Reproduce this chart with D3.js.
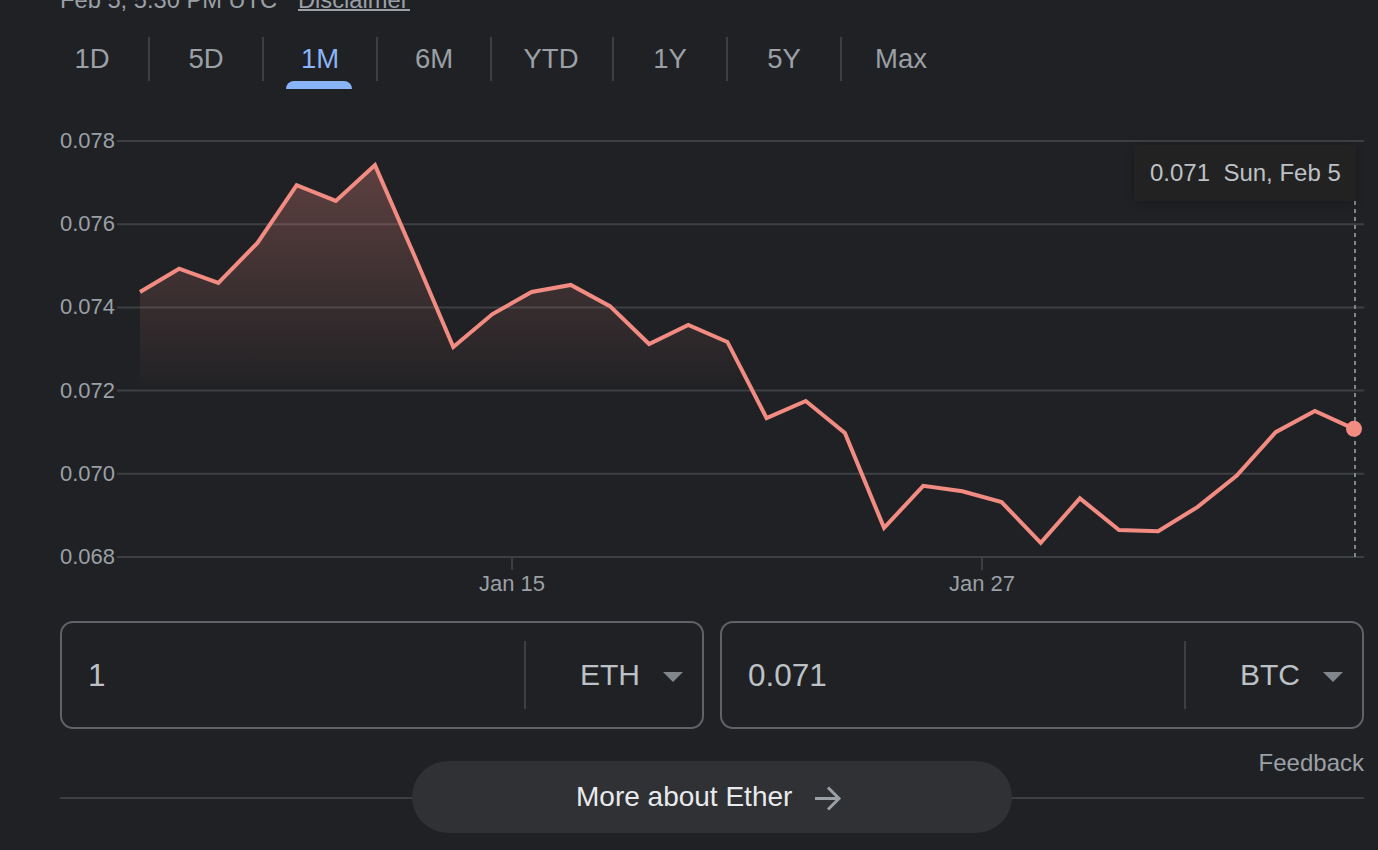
<!DOCTYPE html>
<html>
<head>
<meta charset="utf-8">
<script src="https://cdn.jsdelivr.net/npm/d3@7"></script>
<style>
  html, body { margin: 0; background: #202124; overflow: hidden; }
  svg { display: block; font-family: "Liberation Sans", Arial, sans-serif; }
  .domain { display: none; }
</style>
</head>
<body>
<svg id="chart" width="1378" height="850"></svg>
<script>
// Data
const startDay = Date.UTC(2023, 0, 5, 12); // first point sits at noon on Jan 5
const rates = [
  0.07437, 0.07493, 0.07459, 0.07555, 0.07694, 0.07656, 0.07742, 0.07526,
  0.07305, 0.07384, 0.07437, 0.07454, 0.07403, 0.07312, 0.07358, 0.07317,
  0.07134, 0.07175, 0.07098, 0.06870, 0.06971, 0.06958, 0.06932, 0.06834,
  0.06941, 0.06865, 0.06862, 0.06920, 0.06995, 0.07100, 0.07151, 0.07108
];
const yTicks = [0.068, 0.070, 0.072, 0.074, 0.076, 0.078];
const xTicks = [new Date(Date.UTC(2023, 0, 15)), new Date(Date.UTC(2023, 0, 27))];
const rangeTabs = ['1D', '5D', '1M', '6M', 'YTD', '1Y', '5Y', 'Max'];
const activeTab = '1M';
const tooltipText = '0.071\u00a0\u00a0Sun, Feb 5';

const svg = d3.select('#chart');
const dayMs = 86400000;
const points = rates.map((v, i) => ({ date: new Date(startDay + i * dayMs), value: v }));

const xScale = d3.scaleUtc()
  .domain([points[0].date, points[points.length - 1].date])
  .range([140, 1354]);
const yScale = d3.scaleLinear().domain([0.068, 0.078]).range([557, 141]);

// Header line, cut by the top of the window
svg.append('text').attr('x', 60).attr('y', 7.5).attr('font-size', 23.7).attr('fill', '#9aa0a6')
  .text('Feb 5, 5:30 PM UTC');
svg.append('text').attr('x', 298).attr('y', 7.5).attr('font-size', 23.7).attr('fill', '#9aa0a6')
  .text('Disclaimer');
svg.append('rect').attr('x', 298).attr('y', 9).attr('width', 112).attr('height', 2).attr('fill', '#9aa0a6');

// Range tabs
const tabCenters = [92, 206, 320, 434, 551, 670, 784, 901];
const tabSeps = [149, 263, 377, 491, 613, 727, 841];
svg.selectAll('.tab').data(rangeTabs).enter().append('text')
  .attr('class', 'tab')
  .attr('x', (d, i) => tabCenters[i])
  .attr('y', 68)
  .attr('text-anchor', 'middle')
  .attr('font-size', 27.5)
  .attr('fill', d => d === activeTab ? '#8ab4f8' : '#9aa0a6')
  .text(d => d);
svg.selectAll('.tabsep').data(tabSeps).enter().append('rect')
  .attr('class', 'tabsep')
  .attr('x', d => d - 1).attr('y', 37).attr('width', 2).attr('height', 44)
  .attr('fill', '#3c4043');
svg.append('path').attr('d', 'M286,89V89a8,8 0 0 1 8,-8H344a8,8 0 0 1 8,8Z').attr('fill', '#8ab4f8');

// Axes
const yAxisG = svg.append('g')
  .attr('transform', 'translate(117,0)')
  .call(d3.axisLeft(yScale).tickValues(yTicks).tickFormat(d3.format('.3f')).tickSize(-1247).tickPadding(2).offset(0));
yAxisG.selectAll('line').attr('stroke', '#3c4043').attr('stroke-width', 2);
yAxisG.selectAll('text').attr('fill', '#9aa0a6').attr('font-size', 22).attr('font-family', 'inherit');

const xAxisG = svg.append('g')
  .attr('transform', 'translate(0,557)')
  .call(d3.axisBottom(xScale).tickValues(xTicks).tickFormat(d3.utcFormat('%b %-d')).tickSize(13).tickPadding(5).offset(0));
xAxisG.selectAll('line').attr('stroke', '#3c4043').attr('stroke-width', 2);
xAxisG.selectAll('text').attr('fill', '#9aa0a6').attr('font-size', 22).attr('font-family', 'inherit');

// Area fades out by the 0.072 gridline
const grad = svg.append('defs').append('linearGradient')
  .attr('id', 'areaFade').attr('gradientUnits', 'userSpaceOnUse')
  .attr('x1', 0).attr('x2', 0).attr('y1', yScale(0.0775)).attr('y2', yScale(0.072));
grad.append('stop').attr('offset', 0).attr('stop-color', '#f28b82').attr('stop-opacity', 0.3);
grad.append('stop').attr('offset', 1).attr('stop-color', '#f28b82').attr('stop-opacity', 0);

const area = d3.area().x(d => xScale(d.date)).y0(yScale(0.068)).y1(d => yScale(d.value));
svg.append('path').datum(points).attr('d', area).attr('fill', 'url(#areaFade)');

// Hover guide
svg.append('line')
  .attr('x1', 1355).attr('x2', 1355).attr('y1', 145).attr('y2', 557)
  .attr('stroke', '#80868b').attr('stroke-width', 2).attr('stroke-dasharray', '4 4');

const line = d3.line().x(d => xScale(d.date)).y(d => yScale(d.value));
svg.append('path').datum(points).attr('d', line)
  .attr('fill', 'none').attr('stroke', '#f28b82').attr('stroke-width', 4).attr('stroke-linejoin', 'miter');

const last = points[points.length - 1];
svg.append('circle').attr('cx', xScale(last.date)).attr('cy', yScale(last.value)).attr('r', 8).attr('fill', '#f28b82');

// Tooltip
const shadow = svg.select('defs').append('filter').attr('id', 'tipShadow')
  .attr('x', '-15%').attr('y', '-50%').attr('width', '130%').attr('height', '200%');
shadow.append('feDropShadow').attr('dx', 0).attr('dy', 2).attr('stdDeviation', 6)
  .attr('flood-color', '#000').attr('flood-opacity', 0.25);
svg.append('rect').attr('x', 1134).attr('y', 145).attr('width', 222).attr('height', 56)
  .attr('fill', '#202124').attr('filter', 'url(#tipShadow)');
svg.append('text').attr('x', 1150).attr('y', 181).attr('font-size', 24).attr('fill', '#bdc1c6')
  .text(tooltipText);

// Currency boxes
const boxes = [
  { x: 61, amount: '1', unit: 'ETH' },
  { x: 721, amount: '0.071', unit: 'BTC' }
];
boxes.forEach(b => {
  svg.append('rect').attr('x', b.x).attr('y', 622).attr('width', 642).attr('height', 106).attr('rx', 12)
    .attr('fill', 'none').attr('stroke', '#5f6368').attr('stroke-width', 2);
  svg.append('rect').attr('x', b.x + 463).attr('y', 641).attr('width', 2).attr('height', 68).attr('fill', '#3c4043');
  svg.append('text').attr('x', b.x + 27).attr('y', 686).attr('font-size', 31.5).attr('fill', '#bdc1c6').text(b.amount);
  svg.append('text').attr('x', b.x + 519).attr('y', 685).attr('font-size', 30).attr('fill', '#bdc1c6').text(b.unit);
  const ax = b.x + 602;
  svg.append('path').attr('d', `M${ax},672h20l-10,10Z`).attr('fill', '#80868b');
});

svg.append('text').attr('x', 1364).attr('y', 771).attr('text-anchor', 'end')
  .attr('font-size', 24).attr('fill', '#9aa0a6').text('Feedback');

// More button
svg.append('rect').attr('x', 60).attr('y', 797).attr('width', 1304).attr('height', 2).attr('fill', '#3c4043');
svg.append('rect').attr('x', 412).attr('y', 761).attr('width', 600).attr('height', 72).attr('rx', 36).attr('fill', '#303134');
svg.append('text').attr('x', 576).attr('y', 806).attr('font-size', 28).attr('fill', '#e8eaed').text('More about Ether');
svg.append('path').attr('d', 'M815,798.5H839M828,787.5L839,798.5L828,809.5')
  .attr('fill', 'none').attr('stroke', '#9aa0a6').attr('stroke-width', 3);
</script>
</body>
</html>
